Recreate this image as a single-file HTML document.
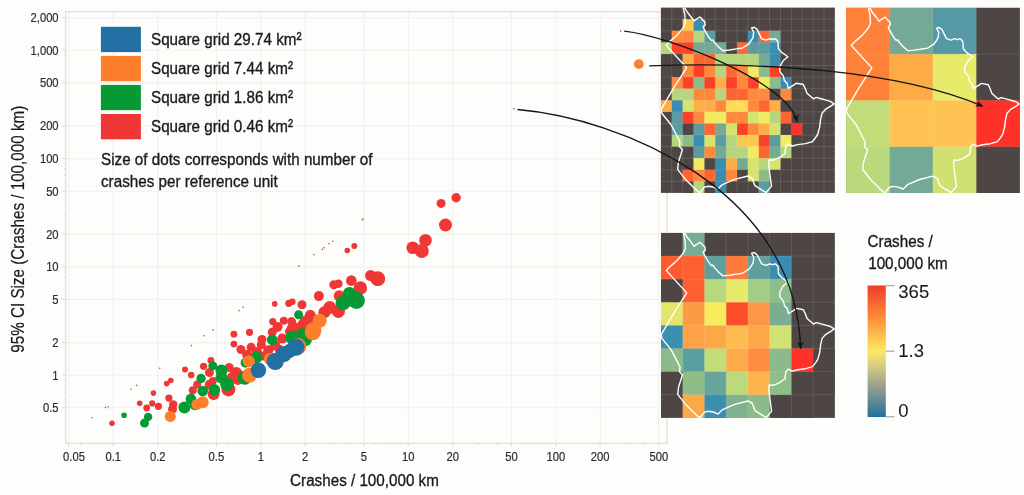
<!DOCTYPE html>
<html><head><meta charset="utf-8"><title>Crashes chart</title>
<style>html,body{margin:0;padding:0;background:#fdfdfc;}svg{display:block;}</style></head>
<body>
<svg width="1024" height="495" viewBox="0 0 1024 495" font-family="'Liberation Sans', sans-serif">
<rect x="0" y="0" width="1024" height="495" fill="#fdfdfc"/>
<g stroke="#f4f0ed" stroke-width="1.1">
<line x1="68.9" y1="11.7" x2="68.9" y2="443.2"/>
<line x1="113.3" y1="11.7" x2="113.3" y2="443.2"/>
<line x1="157.7" y1="11.7" x2="157.7" y2="443.2"/>
<line x1="216.4" y1="11.7" x2="216.4" y2="443.2"/>
<line x1="260.8" y1="11.7" x2="260.8" y2="443.2"/>
<line x1="305.2" y1="11.7" x2="305.2" y2="443.2"/>
<line x1="363.9" y1="11.7" x2="363.9" y2="443.2"/>
<line x1="408.3" y1="11.7" x2="408.3" y2="443.2"/>
<line x1="452.7" y1="11.7" x2="452.7" y2="443.2"/>
<line x1="511.4" y1="11.7" x2="511.4" y2="443.2"/>
<line x1="555.8" y1="11.7" x2="555.8" y2="443.2"/>
<line x1="600.2" y1="11.7" x2="600.2" y2="443.2"/>
<line x1="658.9" y1="11.7" x2="658.9" y2="443.2"/>
<line x1="65.6" y1="17.7" x2="667.0" y2="17.7"/>
<line x1="65.6" y1="50.3" x2="667.0" y2="50.3"/>
<line x1="65.6" y1="82.9" x2="667.0" y2="82.9"/>
<line x1="65.6" y1="126.0" x2="667.0" y2="126.0"/>
<line x1="65.6" y1="158.6" x2="667.0" y2="158.6"/>
<line x1="65.6" y1="191.2" x2="667.0" y2="191.2"/>
<line x1="65.6" y1="234.3" x2="667.0" y2="234.3"/>
<line x1="65.6" y1="266.9" x2="667.0" y2="266.9"/>
<line x1="65.6" y1="299.5" x2="667.0" y2="299.5"/>
<line x1="65.6" y1="342.6" x2="667.0" y2="342.6"/>
<line x1="65.6" y1="375.2" x2="667.0" y2="375.2"/>
<line x1="65.6" y1="407.8" x2="667.0" y2="407.8"/>
</g>
<rect x="65.6" y="11.7" width="601.4" height="431.5" fill="none" stroke="#e6ddd8" stroke-width="1.3"/>
<g stroke="#ddd4cf" stroke-width="1">
<line x1="68.9" y1="443.2" x2="68.9" y2="446.4"/>
<line x1="113.3" y1="443.2" x2="113.3" y2="446.4"/>
<line x1="157.7" y1="443.2" x2="157.7" y2="446.4"/>
<line x1="216.4" y1="443.2" x2="216.4" y2="446.4"/>
<line x1="260.8" y1="443.2" x2="260.8" y2="446.4"/>
<line x1="305.2" y1="443.2" x2="305.2" y2="446.4"/>
<line x1="363.9" y1="443.2" x2="363.9" y2="446.4"/>
<line x1="408.3" y1="443.2" x2="408.3" y2="446.4"/>
<line x1="452.7" y1="443.2" x2="452.7" y2="446.4"/>
<line x1="511.4" y1="443.2" x2="511.4" y2="446.4"/>
<line x1="555.8" y1="443.2" x2="555.8" y2="446.4"/>
<line x1="600.2" y1="443.2" x2="600.2" y2="446.4"/>
<line x1="658.9" y1="443.2" x2="658.9" y2="446.4"/>
<line x1="62.39999999999999" y1="17.7" x2="65.6" y2="17.7"/>
<line x1="62.39999999999999" y1="50.3" x2="65.6" y2="50.3"/>
<line x1="62.39999999999999" y1="82.9" x2="65.6" y2="82.9"/>
<line x1="62.39999999999999" y1="126.0" x2="65.6" y2="126.0"/>
<line x1="62.39999999999999" y1="158.6" x2="65.6" y2="158.6"/>
<line x1="62.39999999999999" y1="191.2" x2="65.6" y2="191.2"/>
<line x1="62.39999999999999" y1="234.3" x2="65.6" y2="234.3"/>
<line x1="62.39999999999999" y1="266.9" x2="65.6" y2="266.9"/>
<line x1="62.39999999999999" y1="299.5" x2="65.6" y2="299.5"/>
<line x1="62.39999999999999" y1="342.6" x2="65.6" y2="342.6"/>
<line x1="62.39999999999999" y1="375.2" x2="65.6" y2="375.2"/>
<line x1="62.39999999999999" y1="407.8" x2="65.6" y2="407.8"/>
</g>
<g stroke="#ddd4cf" stroke-width="0.8">
<line x1="80.6" y1="443.2" x2="80.6" y2="445.0"/>
<line x1="90.5" y1="443.2" x2="90.5" y2="445.0"/>
<line x1="99.0" y1="443.2" x2="99.0" y2="445.0"/>
<line x1="106.6" y1="443.2" x2="106.6" y2="445.0"/>
<line x1="183.7" y1="443.2" x2="183.7" y2="445.0"/>
<line x1="202.1" y1="443.2" x2="202.1" y2="445.0"/>
<line x1="228.1" y1="443.2" x2="228.1" y2="445.0"/>
<line x1="238.0" y1="443.2" x2="238.0" y2="445.0"/>
<line x1="246.5" y1="443.2" x2="246.5" y2="445.0"/>
<line x1="254.1" y1="443.2" x2="254.1" y2="445.0"/>
<line x1="331.2" y1="443.2" x2="331.2" y2="445.0"/>
<line x1="349.6" y1="443.2" x2="349.6" y2="445.0"/>
<line x1="375.6" y1="443.2" x2="375.6" y2="445.0"/>
<line x1="385.5" y1="443.2" x2="385.5" y2="445.0"/>
<line x1="394.0" y1="443.2" x2="394.0" y2="445.0"/>
<line x1="401.6" y1="443.2" x2="401.6" y2="445.0"/>
<line x1="478.7" y1="443.2" x2="478.7" y2="445.0"/>
<line x1="497.1" y1="443.2" x2="497.1" y2="445.0"/>
<line x1="523.1" y1="443.2" x2="523.1" y2="445.0"/>
<line x1="533.0" y1="443.2" x2="533.0" y2="445.0"/>
<line x1="541.5" y1="443.2" x2="541.5" y2="445.0"/>
<line x1="549.1" y1="443.2" x2="549.1" y2="445.0"/>
<line x1="626.2" y1="443.2" x2="626.2" y2="445.0"/>
<line x1="644.6" y1="443.2" x2="644.6" y2="445.0"/>
<line x1="63.8" y1="431.8" x2="65.6" y2="431.8"/>
<line x1="63.8" y1="418.3" x2="65.6" y2="418.3"/>
<line x1="63.8" y1="399.2" x2="65.6" y2="399.2"/>
<line x1="63.8" y1="392.0" x2="65.6" y2="392.0"/>
<line x1="63.8" y1="385.7" x2="65.6" y2="385.7"/>
<line x1="63.8" y1="380.2" x2="65.6" y2="380.2"/>
<line x1="63.8" y1="323.5" x2="65.6" y2="323.5"/>
<line x1="63.8" y1="310.0" x2="65.6" y2="310.0"/>
<line x1="63.8" y1="290.9" x2="65.6" y2="290.9"/>
<line x1="63.8" y1="283.7" x2="65.6" y2="283.7"/>
<line x1="63.8" y1="277.4" x2="65.6" y2="277.4"/>
<line x1="63.8" y1="271.9" x2="65.6" y2="271.9"/>
<line x1="63.8" y1="215.2" x2="65.6" y2="215.2"/>
<line x1="63.8" y1="201.7" x2="65.6" y2="201.7"/>
<line x1="63.8" y1="182.6" x2="65.6" y2="182.6"/>
<line x1="63.8" y1="175.4" x2="65.6" y2="175.4"/>
<line x1="63.8" y1="169.1" x2="65.6" y2="169.1"/>
<line x1="63.8" y1="163.6" x2="65.6" y2="163.6"/>
<line x1="63.8" y1="106.9" x2="65.6" y2="106.9"/>
<line x1="63.8" y1="93.4" x2="65.6" y2="93.4"/>
<line x1="63.8" y1="74.3" x2="65.6" y2="74.3"/>
<line x1="63.8" y1="67.1" x2="65.6" y2="67.1"/>
<line x1="63.8" y1="60.8" x2="65.6" y2="60.8"/>
<line x1="63.8" y1="55.3" x2="65.6" y2="55.3"/>
</g>
<text transform="translate(74.0,460.6) scale(0.89,1)" font-size="12.6" text-anchor="middle" fill="#2c2c2c" stroke="#2c2c2c" stroke-width="0.2">0.05</text>
<text transform="translate(113.3,460.6) scale(0.89,1)" font-size="12.6" text-anchor="middle" fill="#2c2c2c" stroke="#2c2c2c" stroke-width="0.2">0.1</text>
<text transform="translate(157.7,460.6) scale(0.89,1)" font-size="12.6" text-anchor="middle" fill="#2c2c2c" stroke="#2c2c2c" stroke-width="0.2">0.2</text>
<text transform="translate(216.4,460.6) scale(0.89,1)" font-size="12.6" text-anchor="middle" fill="#2c2c2c" stroke="#2c2c2c" stroke-width="0.2">0.5</text>
<text transform="translate(260.8,460.6) scale(0.89,1)" font-size="12.6" text-anchor="middle" fill="#2c2c2c" stroke="#2c2c2c" stroke-width="0.2">1</text>
<text transform="translate(305.2,460.6) scale(0.89,1)" font-size="12.6" text-anchor="middle" fill="#2c2c2c" stroke="#2c2c2c" stroke-width="0.2">2</text>
<text transform="translate(363.9,460.6) scale(0.89,1)" font-size="12.6" text-anchor="middle" fill="#2c2c2c" stroke="#2c2c2c" stroke-width="0.2">5</text>
<text transform="translate(408.3,460.6) scale(0.89,1)" font-size="12.6" text-anchor="middle" fill="#2c2c2c" stroke="#2c2c2c" stroke-width="0.2">10</text>
<text transform="translate(452.7,460.6) scale(0.89,1)" font-size="12.6" text-anchor="middle" fill="#2c2c2c" stroke="#2c2c2c" stroke-width="0.2">20</text>
<text transform="translate(511.4,460.6) scale(0.89,1)" font-size="12.6" text-anchor="middle" fill="#2c2c2c" stroke="#2c2c2c" stroke-width="0.2">50</text>
<text transform="translate(555.8,460.6) scale(0.89,1)" font-size="12.6" text-anchor="middle" fill="#2c2c2c" stroke="#2c2c2c" stroke-width="0.2">100</text>
<text transform="translate(600.2,460.6) scale(0.89,1)" font-size="12.6" text-anchor="middle" fill="#2c2c2c" stroke="#2c2c2c" stroke-width="0.2">200</text>
<text transform="translate(658.9,460.6) scale(0.89,1)" font-size="12.6" text-anchor="middle" fill="#2c2c2c" stroke="#2c2c2c" stroke-width="0.2">500</text>
<text transform="translate(58.6,22.1) scale(0.89,1)" font-size="12.6" text-anchor="end" fill="#2c2c2c" stroke="#2c2c2c" stroke-width="0.2">2,000</text>
<text transform="translate(58.6,54.7) scale(0.89,1)" font-size="12.6" text-anchor="end" fill="#2c2c2c" stroke="#2c2c2c" stroke-width="0.2">1,000</text>
<text transform="translate(58.6,87.3) scale(0.89,1)" font-size="12.6" text-anchor="end" fill="#2c2c2c" stroke="#2c2c2c" stroke-width="0.2">500</text>
<text transform="translate(58.6,130.4) scale(0.89,1)" font-size="12.6" text-anchor="end" fill="#2c2c2c" stroke="#2c2c2c" stroke-width="0.2">200</text>
<text transform="translate(58.6,163.0) scale(0.89,1)" font-size="12.6" text-anchor="end" fill="#2c2c2c" stroke="#2c2c2c" stroke-width="0.2">100</text>
<text transform="translate(58.6,195.6) scale(0.89,1)" font-size="12.6" text-anchor="end" fill="#2c2c2c" stroke="#2c2c2c" stroke-width="0.2">50</text>
<text transform="translate(58.6,238.7) scale(0.89,1)" font-size="12.6" text-anchor="end" fill="#2c2c2c" stroke="#2c2c2c" stroke-width="0.2">20</text>
<text transform="translate(58.6,271.3) scale(0.89,1)" font-size="12.6" text-anchor="end" fill="#2c2c2c" stroke="#2c2c2c" stroke-width="0.2">10</text>
<text transform="translate(58.6,303.9) scale(0.89,1)" font-size="12.6" text-anchor="end" fill="#2c2c2c" stroke="#2c2c2c" stroke-width="0.2">5</text>
<text transform="translate(58.6,347.0) scale(0.89,1)" font-size="12.6" text-anchor="end" fill="#2c2c2c" stroke="#2c2c2c" stroke-width="0.2">2</text>
<text transform="translate(58.6,379.6) scale(0.89,1)" font-size="12.6" text-anchor="end" fill="#2c2c2c" stroke="#2c2c2c" stroke-width="0.2">1</text>
<text transform="translate(58.6,412.2) scale(0.89,1)" font-size="12.6" text-anchor="end" fill="#2c2c2c" stroke="#2c2c2c" stroke-width="0.2">0.5</text>
<text transform="translate(364.5,486.4) scale(0.88,1)" font-size="17.3" text-anchor="middle" fill="#1a1a1a" stroke="#1a1a1a" stroke-width="0.35">Crashes / 100,000 km</text>
<text transform="translate(23.7,229.2) rotate(-90) scale(0.793,1)" font-size="19.2" text-anchor="middle" fill="#1a1a1a" stroke="#1a1a1a" stroke-width="0.2">95% CI Size (Crashes / 100,000 km)</text>
<rect x="100.9" y="26.8" width="40" height="25.3" fill="#2270a3"/>
<text transform="translate(151.0,45.0) scale(0.88,1)" font-size="17.3" text-anchor="start" fill="#1a1a1a" stroke="#1a1a1a" stroke-width="0.35">Square grid 29.74 km²</text>
<rect x="100.9" y="55.9" width="40" height="25.3" fill="#fd7f2c"/>
<text transform="translate(151.0,73.9) scale(0.88,1)" font-size="17.3" text-anchor="start" fill="#1a1a1a" stroke="#1a1a1a" stroke-width="0.35">Square grid 7.44 km²</text>
<rect x="100.9" y="84.9" width="40" height="25.3" fill="#069a35"/>
<text transform="translate(151.0,102.8) scale(0.88,1)" font-size="17.3" text-anchor="start" fill="#1a1a1a" stroke="#1a1a1a" stroke-width="0.35">Square grid 1.86 km²</text>
<rect x="100.9" y="114.0" width="40" height="25.3" fill="#ef3835"/>
<text transform="translate(151.0,131.7) scale(0.88,1)" font-size="17.3" text-anchor="start" fill="#1a1a1a" stroke="#1a1a1a" stroke-width="0.35">Square grid 0.46 km²</text>
<text transform="translate(101.0,164.9) scale(0.88,1)" font-size="17.3" text-anchor="start" fill="#1a1a1a" stroke="#1a1a1a" stroke-width="0.35">Size of dots corresponds with number of</text>
<text transform="translate(101.0,186.9) scale(0.88,1)" font-size="17.3" text-anchor="start" fill="#1a1a1a" stroke="#1a1a1a" stroke-width="0.35">crashes per reference unit</text>
<g fill="#ef3835">
<circle cx="92.2" cy="417.7" r="0.8"/>
<circle cx="105.5" cy="407.5" r="0.8"/>
<circle cx="108.1" cy="406.7" r="0.8"/>
<circle cx="131.1" cy="389.2" r="0.8"/>
<circle cx="136.7" cy="385.2" r="0.8"/>
<circle cx="159.7" cy="368.3" r="0.8"/>
<circle cx="191.4" cy="345.6" r="0.8"/>
<circle cx="204.2" cy="335.8" r="0.8"/>
<circle cx="239.1" cy="310.6" r="0.8"/>
<circle cx="243.1" cy="307.2" r="0.8"/>
<circle cx="298.8" cy="265.9" r="0.8"/>
<circle cx="313.9" cy="254.8" r="0.8"/>
<circle cx="322.5" cy="249.4" r="0.8"/>
<circle cx="328.9" cy="243.7" r="0.8"/>
<circle cx="332.8" cy="241.3" r="0.8"/>
<circle cx="362.2" cy="219.8" r="0.8"/>
<circle cx="363.3" cy="219.0" r="0.8"/>
<circle cx="620.6" cy="31.1" r="0.8"/>
</g>
<g fill="#ef3835">
<circle cx="112" cy="423.3" r="2.8"/>
<circle cx="139.7" cy="403.3" r="2.8"/>
<circle cx="146.7" cy="408" r="3.4"/>
<circle cx="152.2" cy="403.4" r="3.1"/>
<circle cx="153.4" cy="393.1" r="2.8"/>
<circle cx="158.4" cy="406.3" r="3.6"/>
<circle cx="166.7" cy="383.6" r="2.8"/>
<circle cx="170.8" cy="380.5" r="2.8"/>
<circle cx="168.9" cy="398.1" r="3.6"/>
<circle cx="173.3" cy="404.4" r="4.2"/>
<circle cx="172.5" cy="409.1" r="4.5"/>
<circle cx="185" cy="369.5" r="3"/>
<circle cx="191.2" cy="375" r="3.3"/>
<circle cx="192.8" cy="390.3" r="4"/>
<circle cx="197.2" cy="384.5" r="4"/>
<circle cx="203.6" cy="366.3" r="3.6"/>
<circle cx="210.9" cy="360.5" r="3.4"/>
<circle cx="209.4" cy="372.6" r="4.5"/>
<circle cx="209.7" cy="384.7" r="5"/>
<circle cx="212.8" cy="381" r="4"/>
<circle cx="213.6" cy="394" r="6"/>
<circle cx="228.4" cy="389.4" r="7"/>
<circle cx="236" cy="378" r="6"/>
<circle cx="229.2" cy="367.5" r="4.5"/>
<circle cx="236.3" cy="373" r="6"/>
<circle cx="237.8" cy="380" r="5"/>
<circle cx="232" cy="377" r="5"/>
<circle cx="233.9" cy="344.1" r="3.4"/>
<circle cx="233.9" cy="334.2" r="3.4"/>
<circle cx="240.9" cy="349.5" r="4.5"/>
<circle cx="249.5" cy="332.3" r="3.6"/>
<circle cx="251.1" cy="347.2" r="4.5"/>
<circle cx="247.2" cy="355" r="5"/>
<circle cx="262" cy="339.4" r="4.5"/>
<circle cx="261.3" cy="344.8" r="4.5"/>
<circle cx="268.3" cy="350.3" r="5"/>
<circle cx="272.2" cy="332.3" r="4.5"/>
<circle cx="282.3" cy="338.6" r="5"/>
<circle cx="275.3" cy="345.6" r="5"/>
<circle cx="289.4" cy="331.6" r="4.5"/>
<circle cx="274.7" cy="303.9" r="2.8"/>
<circle cx="288.8" cy="303.3" r="3.6"/>
<circle cx="292.3" cy="301.7" r="3.3"/>
<circle cx="302" cy="304.7" r="4.5"/>
<circle cx="318.9" cy="296.1" r="5"/>
<circle cx="333.8" cy="284.8" r="4.5"/>
<circle cx="338.4" cy="283.8" r="4.2"/>
<circle cx="351.3" cy="280.6" r="5.3"/>
<circle cx="360.3" cy="288" r="6.8"/>
<circle cx="370.6" cy="275.5" r="5.5"/>
<circle cx="377.8" cy="278.7" r="7.4"/>
<circle cx="339.2" cy="295.8" r="5.5"/>
<circle cx="329.8" cy="307.5" r="6.5"/>
<circle cx="338.4" cy="311.4" r="6.5"/>
<circle cx="324.4" cy="312.2" r="6"/>
<circle cx="310.3" cy="315.3" r="5.5"/>
<circle cx="305.6" cy="321.6" r="6"/>
<circle cx="291.6" cy="321.6" r="4.5"/>
<circle cx="283.8" cy="320.8" r="4"/>
<circle cx="272.8" cy="321.6" r="3.6"/>
<circle cx="277.5" cy="327" r="5"/>
<circle cx="291.6" cy="328.6" r="5"/>
<circle cx="300" cy="334" r="6"/>
<circle cx="295" cy="328" r="5.5"/>
<circle cx="303" cy="324.5" r="5.5"/>
<circle cx="309" cy="319.5" r="5"/>
<circle cx="456.1" cy="197.7" r="4.7"/>
<circle cx="441.1" cy="203.4" r="4.5"/>
<circle cx="445.5" cy="225" r="6.5"/>
<circle cx="425.5" cy="240.2" r="6.3"/>
<circle cx="412.7" cy="247.8" r="6.3"/>
<circle cx="421.8" cy="251" r="7"/>
<circle cx="354.3" cy="246" r="3"/>
<circle cx="347.3" cy="250.5" r="2.8"/>
<circle cx="257" cy="352" r="5"/>
<circle cx="265" cy="356" r="5"/>
<circle cx="280" cy="350" r="5"/>
</g>
<g fill="#069a35">
<circle cx="213.1" cy="329.7" r="0.8"/>
<circle cx="324.2" cy="247.7" r="0.8"/>
<circle cx="514.1" cy="108.7" r="0.8"/>
</g>
<g fill="#069a35">
<circle cx="124.1" cy="415.3" r="2.8"/>
<circle cx="148.1" cy="416.9" r="4.2"/>
<circle cx="144.5" cy="423.1" r="4.5"/>
<circle cx="184.4" cy="407.5" r="6"/>
<circle cx="190.9" cy="398.9" r="5.3"/>
<circle cx="194.8" cy="405.2" r="5"/>
<circle cx="201.1" cy="378.5" r="4.7"/>
<circle cx="202.7" cy="391" r="5.3"/>
<circle cx="214.4" cy="389.7" r="5.7"/>
<circle cx="221.4" cy="377.5" r="6"/>
<circle cx="226.9" cy="384.3" r="6.7"/>
<circle cx="221.4" cy="370.5" r="6"/>
<circle cx="212.8" cy="365.9" r="4.5"/>
<circle cx="272.2" cy="339.7" r="5.3"/>
<circle cx="256.6" cy="357.3" r="6"/>
<circle cx="245.6" cy="362.8" r="5"/>
<circle cx="244.8" cy="377.7" r="7"/>
<circle cx="292.5" cy="337.8" r="7"/>
<circle cx="305" cy="339.3" r="7"/>
<circle cx="298.6" cy="314.8" r="4.5"/>
<circle cx="343.1" cy="302.8" r="7.5"/>
<circle cx="349.4" cy="293.4" r="6.5"/>
<circle cx="356.4" cy="300.5" r="8.5"/>
<circle cx="291.6" cy="337.3" r="6"/>
<circle cx="302.5" cy="334.2" r="6"/>
</g>
<g fill="#fd7f2c">
<circle cx="170.3" cy="416.4" r="5.5"/>
<circle cx="196.9" cy="404.4" r="5.5"/>
<circle cx="202.7" cy="402.3" r="6"/>
<circle cx="249.5" cy="375.3" r="7.5"/>
<circle cx="248.8" cy="361.3" r="6"/>
<circle cx="269.8" cy="358.9" r="6"/>
<circle cx="298" cy="346.4" r="8.3"/>
<circle cx="312.8" cy="332.3" r="8"/>
<circle cx="319.7" cy="320.8" r="7"/>
<circle cx="313.4" cy="330.2" r="8"/>
<circle cx="638.8" cy="64.1" r="4.9"/>
</g>
<g fill="#2270a3">
<circle cx="258.4" cy="370.3" r="7.8"/>
<circle cx="275.3" cy="361.3" r="8.6"/>
<circle cx="283.9" cy="354.2" r="8"/>
<circle cx="289.4" cy="351.1" r="7"/>
<circle cx="295.9" cy="347.2" r="8.6"/>
</g>
<defs><clipPath id="cpa"><rect x="0" y="0" width="173.95" height="185.3"/></clipPath></defs>
<g transform="translate(660.9,7.6)">
<rect x="0" y="0" width="173.95" height="185.3" fill="#4e4644"/>
<g clip-path="url(#cpa)">
<rect x="21.74" y="11.58" width="11.87" height="12.58" fill="#fec850"/>
<rect x="32.62" y="11.58" width="11.87" height="12.58" fill="#3a8cb0"/>
<rect x="43.49" y="11.58" width="11.87" height="12.58" fill="#4e4644"/>
<rect x="10.87" y="23.16" width="11.87" height="12.58" fill="#fd8a3c"/>
<rect x="21.74" y="23.16" width="11.87" height="12.58" fill="#fd8a3c"/>
<rect x="32.62" y="23.16" width="11.87" height="12.58" fill="#b5d67e"/>
<rect x="43.49" y="23.16" width="11.87" height="12.58" fill="#5b9ca1"/>
<rect x="54.36" y="23.16" width="11.87" height="12.58" fill="#4e4644"/>
<rect x="86.97" y="23.16" width="11.87" height="12.58" fill="#3a8cb0"/>
<rect x="97.85" y="23.16" width="11.87" height="12.58" fill="#fd6531"/>
<rect x="108.72" y="23.16" width="11.87" height="12.58" fill="#74aa95"/>
<rect x="119.59" y="23.16" width="11.87" height="12.58" fill="#4e4644"/>
<rect x="0.00" y="34.74" width="11.87" height="12.58" fill="#b5d67e"/>
<rect x="10.87" y="34.74" width="11.87" height="12.58" fill="#fd4028"/>
<rect x="21.74" y="34.74" width="11.87" height="12.58" fill="#fd4028"/>
<rect x="32.62" y="34.74" width="11.87" height="12.58" fill="#74aa95"/>
<rect x="43.49" y="34.74" width="11.87" height="12.58" fill="#74aa95"/>
<rect x="54.36" y="34.74" width="11.87" height="12.58" fill="#74aa95"/>
<rect x="65.23" y="34.74" width="11.87" height="12.58" fill="#4e4644"/>
<rect x="76.10" y="34.74" width="11.87" height="12.58" fill="#fd6531"/>
<rect x="86.97" y="34.74" width="11.87" height="12.58" fill="#5b9ca1"/>
<rect x="97.85" y="34.74" width="11.87" height="12.58" fill="#5b9ca1"/>
<rect x="108.72" y="34.74" width="11.87" height="12.58" fill="#3a8cb0"/>
<rect x="119.59" y="34.74" width="11.87" height="12.58" fill="#4e4644"/>
<rect x="0.00" y="46.33" width="11.87" height="12.58" fill="#4e4644"/>
<rect x="10.87" y="46.33" width="11.87" height="12.58" fill="#4e4644"/>
<rect x="21.74" y="46.33" width="11.87" height="12.58" fill="#fdae48"/>
<rect x="32.62" y="46.33" width="11.87" height="12.58" fill="#fd6531"/>
<rect x="43.49" y="46.33" width="11.87" height="12.58" fill="#fd6531"/>
<rect x="54.36" y="46.33" width="11.87" height="12.58" fill="#b5d67e"/>
<rect x="65.23" y="46.33" width="11.87" height="12.58" fill="#b5d67e"/>
<rect x="76.10" y="46.33" width="11.87" height="12.58" fill="#b5d67e"/>
<rect x="86.97" y="46.33" width="11.87" height="12.58" fill="#b5d67e"/>
<rect x="97.85" y="46.33" width="11.87" height="12.58" fill="#74aa95"/>
<rect x="108.72" y="46.33" width="11.87" height="12.58" fill="#3a8cb0"/>
<rect x="119.59" y="46.33" width="11.87" height="12.58" fill="#4e4644"/>
<rect x="21.74" y="57.91" width="11.87" height="12.58" fill="#fd8a3c"/>
<rect x="32.62" y="57.91" width="11.87" height="12.58" fill="#fd4028"/>
<rect x="43.49" y="57.91" width="11.87" height="12.58" fill="#fd8a3c"/>
<rect x="54.36" y="57.91" width="11.87" height="12.58" fill="#b5d67e"/>
<rect x="65.23" y="57.91" width="11.87" height="12.58" fill="#fd6531"/>
<rect x="76.10" y="57.91" width="11.87" height="12.58" fill="#fd8a3c"/>
<rect x="86.97" y="57.91" width="11.87" height="12.58" fill="#f2eb62"/>
<rect x="97.85" y="57.91" width="11.87" height="12.58" fill="#8dbb88"/>
<rect x="108.72" y="57.91" width="11.87" height="12.58" fill="#fd4028"/>
<rect x="119.59" y="57.91" width="11.87" height="12.58" fill="#4e4644"/>
<rect x="10.87" y="69.49" width="11.87" height="12.58" fill="#fd8a3c"/>
<rect x="21.74" y="69.49" width="11.87" height="12.58" fill="#fd4028"/>
<rect x="32.62" y="69.49" width="11.87" height="12.58" fill="#8dbb88"/>
<rect x="43.49" y="69.49" width="11.87" height="12.58" fill="#fd4028"/>
<rect x="54.36" y="69.49" width="11.87" height="12.58" fill="#fdae48"/>
<rect x="65.23" y="69.49" width="11.87" height="12.58" fill="#fd4028"/>
<rect x="76.10" y="69.49" width="11.87" height="12.58" fill="#fd8a3c"/>
<rect x="86.97" y="69.49" width="11.87" height="12.58" fill="#fd4028"/>
<rect x="97.85" y="69.49" width="11.87" height="12.58" fill="#f2eb62"/>
<rect x="108.72" y="69.49" width="11.87" height="12.58" fill="#8dbb88"/>
<rect x="119.59" y="69.49" width="11.87" height="12.58" fill="#3a8cb0"/>
<rect x="130.46" y="69.49" width="11.87" height="12.58" fill="#4e4644"/>
<rect x="10.87" y="81.07" width="11.87" height="12.58" fill="#b5d67e"/>
<rect x="21.74" y="81.07" width="11.87" height="12.58" fill="#b5d67e"/>
<rect x="32.62" y="81.07" width="11.87" height="12.58" fill="#fd8a3c"/>
<rect x="43.49" y="81.07" width="11.87" height="12.58" fill="#fd8a3c"/>
<rect x="54.36" y="81.07" width="11.87" height="12.58" fill="#b5d67e"/>
<rect x="65.23" y="81.07" width="11.87" height="12.58" fill="#fd6531"/>
<rect x="76.10" y="81.07" width="11.87" height="12.58" fill="#fd6531"/>
<rect x="86.97" y="81.07" width="11.87" height="12.58" fill="#fd8a3c"/>
<rect x="97.85" y="81.07" width="11.87" height="12.58" fill="#fd8a3c"/>
<rect x="108.72" y="81.07" width="11.87" height="12.58" fill="#4e4644"/>
<rect x="119.59" y="81.07" width="11.87" height="12.58" fill="#fd8a3c"/>
<rect x="130.46" y="81.07" width="11.87" height="12.58" fill="#4e4644"/>
<rect x="0.00" y="92.65" width="11.87" height="12.58" fill="#fdae48"/>
<rect x="10.87" y="92.65" width="11.87" height="12.58" fill="#3a8cb0"/>
<rect x="21.74" y="92.65" width="11.87" height="12.58" fill="#d6e36f"/>
<rect x="32.62" y="92.65" width="11.87" height="12.58" fill="#fdae48"/>
<rect x="43.49" y="92.65" width="11.87" height="12.58" fill="#fdae48"/>
<rect x="54.36" y="92.65" width="11.87" height="12.58" fill="#fd8a3c"/>
<rect x="65.23" y="92.65" width="11.87" height="12.58" fill="#fddd57"/>
<rect x="76.10" y="92.65" width="11.87" height="12.58" fill="#fddd57"/>
<rect x="86.97" y="92.65" width="11.87" height="12.58" fill="#fd8a3c"/>
<rect x="97.85" y="92.65" width="11.87" height="12.58" fill="#fd6531"/>
<rect x="108.72" y="92.65" width="11.87" height="12.58" fill="#fdae48"/>
<rect x="119.59" y="92.65" width="11.87" height="12.58" fill="#4e4644"/>
<rect x="130.46" y="92.65" width="11.87" height="12.58" fill="#4e4644"/>
<rect x="0.00" y="104.23" width="11.87" height="12.58" fill="#4e4644"/>
<rect x="10.87" y="104.23" width="11.87" height="12.58" fill="#5b9ca1"/>
<rect x="21.74" y="104.23" width="11.87" height="12.58" fill="#fd4028"/>
<rect x="32.62" y="104.23" width="11.87" height="12.58" fill="#fd8a3c"/>
<rect x="43.49" y="104.23" width="11.87" height="12.58" fill="#f2eb62"/>
<rect x="54.36" y="104.23" width="11.87" height="12.58" fill="#f2eb62"/>
<rect x="65.23" y="104.23" width="11.87" height="12.58" fill="#fd8a3c"/>
<rect x="76.10" y="104.23" width="11.87" height="12.58" fill="#fd8a3c"/>
<rect x="86.97" y="104.23" width="11.87" height="12.58" fill="#d6e36f"/>
<rect x="97.85" y="104.23" width="11.87" height="12.58" fill="#f2eb62"/>
<rect x="108.72" y="104.23" width="11.87" height="12.58" fill="#b5d67e"/>
<rect x="119.59" y="104.23" width="11.87" height="12.58" fill="#fd6531"/>
<rect x="130.46" y="104.23" width="11.87" height="12.58" fill="#4e4644"/>
<rect x="10.87" y="115.81" width="11.87" height="12.58" fill="#5b9ca1"/>
<rect x="21.74" y="115.81" width="11.87" height="12.58" fill="#4e4644"/>
<rect x="32.62" y="115.81" width="11.87" height="12.58" fill="#5b9ca1"/>
<rect x="43.49" y="115.81" width="11.87" height="12.58" fill="#fd6531"/>
<rect x="54.36" y="115.81" width="11.87" height="12.58" fill="#74aa95"/>
<rect x="65.23" y="115.81" width="11.87" height="12.58" fill="#d6e36f"/>
<rect x="76.10" y="115.81" width="11.87" height="12.58" fill="#fd4028"/>
<rect x="86.97" y="115.81" width="11.87" height="12.58" fill="#fd8a3c"/>
<rect x="97.85" y="115.81" width="11.87" height="12.58" fill="#fdae48"/>
<rect x="108.72" y="115.81" width="11.87" height="12.58" fill="#d6e36f"/>
<rect x="119.59" y="115.81" width="11.87" height="12.58" fill="#4e4644"/>
<rect x="130.46" y="115.81" width="11.87" height="12.58" fill="#fe3229"/>
<rect x="141.33" y="115.81" width="11.87" height="12.58" fill="#4e4644"/>
<rect x="10.87" y="127.39" width="11.87" height="12.58" fill="#b5d67e"/>
<rect x="21.74" y="127.39" width="11.87" height="12.58" fill="#8dbb88"/>
<rect x="32.62" y="127.39" width="11.87" height="12.58" fill="#3a8cb0"/>
<rect x="43.49" y="127.39" width="11.87" height="12.58" fill="#d6e36f"/>
<rect x="54.36" y="127.39" width="11.87" height="12.58" fill="#5b9ca1"/>
<rect x="65.23" y="127.39" width="11.87" height="12.58" fill="#b5d67e"/>
<rect x="76.10" y="127.39" width="11.87" height="12.58" fill="#fec850"/>
<rect x="86.97" y="127.39" width="11.87" height="12.58" fill="#fec850"/>
<rect x="97.85" y="127.39" width="11.87" height="12.58" fill="#fd4028"/>
<rect x="108.72" y="127.39" width="11.87" height="12.58" fill="#5b9ca1"/>
<rect x="119.59" y="127.39" width="11.87" height="12.58" fill="#f2eb62"/>
<rect x="130.46" y="127.39" width="11.87" height="12.58" fill="#4e4644"/>
<rect x="141.33" y="127.39" width="11.87" height="12.58" fill="#4e4644"/>
<rect x="10.87" y="138.98" width="11.87" height="12.58" fill="#4e4644"/>
<rect x="21.74" y="138.98" width="11.87" height="12.58" fill="#4e4644"/>
<rect x="32.62" y="138.98" width="11.87" height="12.58" fill="#5b9ca1"/>
<rect x="43.49" y="138.98" width="11.87" height="12.58" fill="#fd8a3c"/>
<rect x="54.36" y="138.98" width="11.87" height="12.58" fill="#74aa95"/>
<rect x="65.23" y="138.98" width="11.87" height="12.58" fill="#b5d67e"/>
<rect x="76.10" y="138.98" width="11.87" height="12.58" fill="#b5d67e"/>
<rect x="86.97" y="138.98" width="11.87" height="12.58" fill="#f2eb62"/>
<rect x="97.85" y="138.98" width="11.87" height="12.58" fill="#fd6531"/>
<rect x="108.72" y="138.98" width="11.87" height="12.58" fill="#74aa95"/>
<rect x="119.59" y="138.98" width="11.87" height="12.58" fill="#b5d67e"/>
<rect x="130.46" y="138.98" width="11.87" height="12.58" fill="#4e4644"/>
<rect x="32.62" y="150.56" width="11.87" height="12.58" fill="#f2eb62"/>
<rect x="43.49" y="150.56" width="11.87" height="12.58" fill="#4e4644"/>
<rect x="54.36" y="150.56" width="11.87" height="12.58" fill="#3a8cb0"/>
<rect x="65.23" y="150.56" width="11.87" height="12.58" fill="#fdae48"/>
<rect x="76.10" y="150.56" width="11.87" height="12.58" fill="#74aa95"/>
<rect x="86.97" y="150.56" width="11.87" height="12.58" fill="#d6e36f"/>
<rect x="97.85" y="150.56" width="11.87" height="12.58" fill="#b5d67e"/>
<rect x="108.72" y="150.56" width="11.87" height="12.58" fill="#d6e36f"/>
<rect x="119.59" y="150.56" width="11.87" height="12.58" fill="#4e4644"/>
<rect x="130.46" y="150.56" width="11.87" height="12.58" fill="#4e4644"/>
<rect x="21.74" y="162.14" width="11.87" height="12.58" fill="#fd6531"/>
<rect x="32.62" y="162.14" width="11.87" height="12.58" fill="#fd8a3c"/>
<rect x="43.49" y="162.14" width="11.87" height="12.58" fill="#fd6531"/>
<rect x="54.36" y="162.14" width="11.87" height="12.58" fill="#3a8cb0"/>
<rect x="65.23" y="162.14" width="11.87" height="12.58" fill="#fd8a3c"/>
<rect x="76.10" y="162.14" width="11.87" height="12.58" fill="#4e4644"/>
<rect x="86.97" y="162.14" width="11.87" height="12.58" fill="#d6e36f"/>
<rect x="97.85" y="162.14" width="11.87" height="12.58" fill="#8dbb88"/>
<rect x="108.72" y="162.14" width="11.87" height="12.58" fill="#4e4644"/>
<rect x="119.59" y="162.14" width="11.87" height="12.58" fill="#4e4644"/>
<rect x="21.74" y="173.72" width="11.87" height="12.58" fill="#4e4644"/>
<rect x="32.62" y="173.72" width="11.87" height="12.58" fill="#b5d67e"/>
<rect x="43.49" y="173.72" width="11.87" height="12.58" fill="#4e4644"/>
<rect x="54.36" y="173.72" width="11.87" height="12.58" fill="#3a8cb0"/>
<rect x="65.23" y="173.72" width="11.87" height="12.58" fill="#4e4644"/>
<rect x="76.10" y="173.72" width="11.87" height="12.58" fill="#4e4644"/>
<rect x="86.97" y="173.72" width="11.87" height="12.58" fill="#4e4644"/>
<rect x="97.85" y="173.72" width="11.87" height="12.58" fill="#5b9ca1"/>
<rect x="108.72" y="173.72" width="11.87" height="12.58" fill="#4e4644"/>
</g>
<g stroke="#ffffff" stroke-opacity="0.13" stroke-width="0.9">
<line x1="10.87" y1="0" x2="10.87" y2="185.3"/>
<line x1="21.74" y1="0" x2="21.74" y2="185.3"/>
<line x1="32.62" y1="0" x2="32.62" y2="185.3"/>
<line x1="43.49" y1="0" x2="43.49" y2="185.3"/>
<line x1="54.36" y1="0" x2="54.36" y2="185.3"/>
<line x1="65.23" y1="0" x2="65.23" y2="185.3"/>
<line x1="76.10" y1="0" x2="76.10" y2="185.3"/>
<line x1="86.97" y1="0" x2="86.97" y2="185.3"/>
<line x1="97.85" y1="0" x2="97.85" y2="185.3"/>
<line x1="108.72" y1="0" x2="108.72" y2="185.3"/>
<line x1="119.59" y1="0" x2="119.59" y2="185.3"/>
<line x1="130.46" y1="0" x2="130.46" y2="185.3"/>
<line x1="141.33" y1="0" x2="141.33" y2="185.3"/>
<line x1="152.21" y1="0" x2="152.21" y2="185.3"/>
<line x1="163.08" y1="0" x2="163.08" y2="185.3"/>
<line x1="0" y1="11.58" x2="173.95" y2="11.58"/>
<line x1="0" y1="23.16" x2="173.95" y2="23.16"/>
<line x1="0" y1="34.74" x2="173.95" y2="34.74"/>
<line x1="0" y1="46.33" x2="173.95" y2="46.33"/>
<line x1="0" y1="57.91" x2="173.95" y2="57.91"/>
<line x1="0" y1="69.49" x2="173.95" y2="69.49"/>
<line x1="0" y1="81.07" x2="173.95" y2="81.07"/>
<line x1="0" y1="92.65" x2="173.95" y2="92.65"/>
<line x1="0" y1="104.23" x2="173.95" y2="104.23"/>
<line x1="0" y1="115.81" x2="173.95" y2="115.81"/>
<line x1="0" y1="127.39" x2="173.95" y2="127.39"/>
<line x1="0" y1="138.98" x2="173.95" y2="138.98"/>
<line x1="0" y1="150.56" x2="173.95" y2="150.56"/>
<line x1="0" y1="162.14" x2="173.95" y2="162.14"/>
<line x1="0" y1="173.72" x2="173.95" y2="173.72"/>
</g>
<polygon points="5.2,37.6 9.0,33.8 16.1,27.6 22.1,20.5 24.4,15.5 24.0,7.4 22.3,0.0 23.7,0.0 26.2,4.4 30.2,9.4 33.2,13.5 34.8,12.0 36.8,10.9 38.8,9.4 40.3,10.4 41.8,12.5 43.9,14.0 44.2,17.5 42.3,19.0 43.4,22.0 45.4,25.6 47.9,29.6 50.4,32.8 51.9,32.3 53.5,34.8 57.5,39.3 62.0,43.1 68.6,42.4 75.7,41.3 81.7,40.4 88.3,36.1 92.1,30.0 92.8,24.6 90.6,20.4 93.4,19.7 96.1,21.8 98.8,27.3 100.6,31.0 105.2,32.5 108.8,31.0 111.5,31.9 114.3,31.0 117.0,33.8 117.5,41.0 120.6,44.7 127.0,49.2 122.4,52.9 118.8,59.2 118.8,63.8 122.4,68.3 123.4,72.9 126.1,75.6 127.4,80.7 131.5,78.3 135.7,75.6 142.4,76.9 144.3,81.0 146.1,85.6 152.4,91.2 155.4,89.8 162.0,91.6 169.3,93.8 173.4,96.2 169.8,98.6 164.8,101.6 161.1,105.7 159.7,111.7 158.7,119.8 156.7,126.9 154.7,129.9 151.6,134.0 144.6,136.0 136.5,137.0 131.4,138.4 127.4,136.4 124.8,139.0 124.0,146.1 118.3,150.1 112.2,152.6 108.2,152.2 107.8,157.3 109.2,168.4 110.6,178.5 105.2,185.0 101.1,182.5 94.1,178.1 91.0,170.4 87.0,168.4 73.7,171.8 61.5,177.0 57.0,181.5 52.4,179.4 47.4,178.7 43.4,179.5 38.8,185.3 34.3,181.5 25.2,172.5 16.7,161.8 17.6,154.2 21.5,142.0 18.5,139.0 19.1,134.5 16.1,128.4 10.0,116.9 0.9,105.7 0.3,101.7 13.1,79.8 25.8,60.1 9.0,41.8" fill="none" stroke="#ffffff" stroke-width="1.4" stroke-linejoin="round" clip-path="url(#cpa)"/>
</g>
<defs><clipPath id="cpb"><rect x="0" y="0" width="173.65" height="185.2"/></clipPath></defs>
<g transform="translate(846.05,7.8)">
<rect x="0" y="0" width="173.65" height="185.2" fill="#4e4644"/>
<g clip-path="url(#cpb)">
<rect x="0.00" y="0.00" width="44.41" height="47.30" fill="#fd8139"/>
<rect x="43.41" y="0.00" width="44.41" height="47.30" fill="#74aa95"/>
<rect x="86.83" y="0.00" width="44.41" height="47.30" fill="#5499a5"/>
<rect x="130.24" y="0.00" width="44.41" height="47.30" fill="#4e4644"/>
<rect x="0.00" y="46.30" width="44.41" height="47.30" fill="#fd8139"/>
<rect x="43.41" y="46.30" width="44.41" height="47.30" fill="#fdab47"/>
<rect x="86.83" y="46.30" width="44.41" height="47.30" fill="#e8ea6a"/>
<rect x="130.24" y="46.30" width="44.41" height="47.30" fill="#4e4644"/>
<rect x="0.00" y="92.60" width="44.41" height="47.30" fill="#c3dc7a"/>
<rect x="43.41" y="92.60" width="44.41" height="47.30" fill="#fec352"/>
<rect x="86.83" y="92.60" width="44.41" height="47.30" fill="#fec352"/>
<rect x="130.24" y="92.60" width="44.41" height="47.30" fill="#fe3229"/>
<rect x="0.00" y="138.90" width="44.41" height="47.30" fill="#b9d97c"/>
<rect x="43.41" y="138.90" width="44.41" height="47.30" fill="#74aa95"/>
<rect x="86.83" y="138.90" width="44.41" height="47.30" fill="#d0e071"/>
<rect x="130.24" y="138.90" width="44.41" height="47.30" fill="#4e4644"/>
</g>
<g stroke="#ffffff" stroke-opacity="0.13" stroke-width="0.9">
<line x1="43.41" y1="0" x2="43.41" y2="185.2"/>
<line x1="86.83" y1="0" x2="86.83" y2="185.2"/>
<line x1="130.24" y1="0" x2="130.24" y2="185.2"/>
<line x1="0" y1="46.30" x2="173.65" y2="46.30"/>
<line x1="0" y1="92.60" x2="173.65" y2="92.60"/>
<line x1="0" y1="138.90" x2="173.65" y2="138.90"/>
</g>
<polygon points="5.2,37.5 9.0,33.7 16.1,27.6 22.1,20.5 24.4,15.5 24.0,7.4 22.3,0.0 23.7,0.0 26.2,4.4 30.2,9.4 33.2,13.5 34.7,12.0 36.7,10.9 38.7,9.4 40.2,10.4 41.7,12.5 43.8,14.0 44.1,17.5 42.2,19.0 43.3,22.0 45.3,25.6 47.8,29.6 50.3,32.7 51.8,32.2 53.4,34.7 57.4,39.2 61.9,43.0 68.5,42.3 75.6,41.2 81.6,40.3 88.2,36.0 92.0,30.0 92.7,24.6 90.5,20.4 93.3,19.7 96.0,21.8 98.7,27.3 100.5,30.9 105.0,32.4 108.6,30.9 111.3,31.8 114.1,30.9 116.8,33.7 117.3,40.9 120.4,44.6 126.8,49.2 122.2,52.9 118.6,59.2 118.6,63.8 122.2,68.3 123.2,72.9 125.9,75.6 127.2,80.7 131.3,78.3 135.5,75.6 142.2,76.9 144.1,81.0 145.9,85.6 152.2,91.2 155.2,89.8 161.8,91.6 169.1,93.7 173.2,96.1 169.6,98.5 164.6,101.5 160.9,105.6 159.5,111.6 158.5,119.7 156.5,126.8 154.5,129.8 151.4,133.9 144.4,135.9 136.3,136.9 131.2,138.3 127.2,136.3 124.6,139.0 123.8,146.1 118.1,150.1 112.0,152.6 108.0,152.2 107.6,157.2 109.0,168.3 110.4,178.4 105.0,184.9 101.0,182.4 94.0,178.0 90.9,170.3 86.9,168.3 73.6,171.7 61.4,176.9 56.9,181.4 52.3,179.3 47.3,178.6 43.3,179.4 38.7,185.2 34.3,181.4 25.2,172.4 16.7,161.7 17.6,154.2 21.5,142.0 18.5,139.0 19.1,134.4 16.1,128.3 10.0,116.8 0.9,105.6 0.3,101.6 13.1,79.8 25.8,60.1 9.0,41.7" fill="none" stroke="#ffffff" stroke-width="1.4" stroke-linejoin="round" clip-path="url(#cpb)"/>
</g>
<defs><clipPath id="cpc"><rect x="0" y="0" width="173.85" height="185.0"/></clipPath></defs>
<g transform="translate(661.0,232.9)">
<rect x="0" y="0" width="173.85" height="185.0" fill="#4e4644"/>
<g clip-path="url(#cpc)">
<rect x="21.73" y="0.00" width="22.73" height="24.12" fill="#76ab94"/>
<rect x="43.46" y="0.00" width="22.73" height="24.12" fill="#4e4644"/>
<rect x="0.00" y="23.12" width="22.73" height="24.12" fill="#fd5a2e"/>
<rect x="21.73" y="23.12" width="22.73" height="24.12" fill="#fd6030"/>
<rect x="43.46" y="23.12" width="22.73" height="24.12" fill="#5fa09e"/>
<rect x="65.19" y="23.12" width="22.73" height="24.12" fill="#fd7a3c"/>
<rect x="86.92" y="23.12" width="22.73" height="24.12" fill="#5fa09e"/>
<rect x="108.66" y="23.12" width="22.73" height="24.12" fill="#3a8db0"/>
<rect x="130.39" y="23.12" width="22.73" height="24.12" fill="#4e4644"/>
<rect x="0.00" y="46.25" width="22.73" height="24.12" fill="#4e4644"/>
<rect x="21.73" y="46.25" width="22.73" height="24.12" fill="#fd6030"/>
<rect x="43.46" y="46.25" width="22.73" height="24.12" fill="#b7d87e"/>
<rect x="65.19" y="46.25" width="22.73" height="24.12" fill="#e8ea6a"/>
<rect x="86.92" y="46.25" width="22.73" height="24.12" fill="#a3cc85"/>
<rect x="108.66" y="46.25" width="22.73" height="24.12" fill="#8cbf8a"/>
<rect x="130.39" y="46.25" width="22.73" height="24.12" fill="#4e4644"/>
<rect x="0.00" y="69.38" width="22.73" height="24.12" fill="#e4e66c"/>
<rect x="21.73" y="69.38" width="22.73" height="24.12" fill="#fd9a44"/>
<rect x="43.46" y="69.38" width="22.73" height="24.12" fill="#f7ec5e"/>
<rect x="65.19" y="69.38" width="22.73" height="24.12" fill="#fc4e2b"/>
<rect x="86.92" y="69.38" width="22.73" height="24.12" fill="#fd9646"/>
<rect x="108.66" y="69.38" width="22.73" height="24.12" fill="#7aad92"/>
<rect x="130.39" y="69.38" width="22.73" height="24.12" fill="#4e4644"/>
<rect x="0.00" y="92.50" width="22.73" height="24.12" fill="#3a8fae"/>
<rect x="21.73" y="92.50" width="22.73" height="24.12" fill="#fda345"/>
<rect x="43.46" y="92.50" width="22.73" height="24.12" fill="#fda846"/>
<rect x="65.19" y="92.50" width="22.73" height="24.12" fill="#febb4f"/>
<rect x="86.92" y="92.50" width="22.73" height="24.12" fill="#fda846"/>
<rect x="108.66" y="92.50" width="22.73" height="24.12" fill="#d2e272"/>
<rect x="130.39" y="92.50" width="22.73" height="24.12" fill="#4e4644"/>
<rect x="0.00" y="115.62" width="22.73" height="24.12" fill="#8cba8a"/>
<rect x="21.73" y="115.62" width="22.73" height="24.12" fill="#5a9fa0"/>
<rect x="43.46" y="115.62" width="22.73" height="24.12" fill="#c3dc7a"/>
<rect x="65.19" y="115.62" width="22.73" height="24.12" fill="#fdaa48"/>
<rect x="86.92" y="115.62" width="22.73" height="24.12" fill="#fd8c40"/>
<rect x="108.66" y="115.62" width="22.73" height="24.12" fill="#8cba8a"/>
<rect x="130.39" y="115.62" width="22.73" height="24.12" fill="#fe3229"/>
<rect x="152.12" y="115.62" width="22.73" height="24.12" fill="#4e4644"/>
<rect x="0.00" y="138.75" width="22.73" height="24.12" fill="#4e4644"/>
<rect x="21.73" y="138.75" width="22.73" height="24.12" fill="#8fbd88"/>
<rect x="43.46" y="138.75" width="22.73" height="24.12" fill="#67a49b"/>
<rect x="65.19" y="138.75" width="22.73" height="24.12" fill="#bada7c"/>
<rect x="86.92" y="138.75" width="22.73" height="24.12" fill="#fdb44c"/>
<rect x="108.66" y="138.75" width="22.73" height="24.12" fill="#8fbd88"/>
<rect x="130.39" y="138.75" width="22.73" height="24.12" fill="#4e4644"/>
<rect x="152.12" y="138.75" width="22.73" height="24.12" fill="#4e4644"/>
<rect x="21.73" y="161.88" width="22.73" height="24.12" fill="#fda846"/>
<rect x="43.46" y="161.88" width="22.73" height="24.12" fill="#3a8fae"/>
<rect x="65.19" y="161.88" width="22.73" height="24.12" fill="#7fb08f"/>
<rect x="86.92" y="161.88" width="22.73" height="24.12" fill="#8cba8a"/>
<rect x="108.66" y="161.88" width="22.73" height="24.12" fill="#4e4644"/>
<rect x="130.39" y="161.88" width="22.73" height="24.12" fill="#4e4644"/>
</g>
<g stroke="#ffffff" stroke-opacity="0.13" stroke-width="0.9">
<line x1="21.73" y1="0" x2="21.73" y2="185.0"/>
<line x1="43.46" y1="0" x2="43.46" y2="185.0"/>
<line x1="65.19" y1="0" x2="65.19" y2="185.0"/>
<line x1="86.92" y1="0" x2="86.92" y2="185.0"/>
<line x1="108.66" y1="0" x2="108.66" y2="185.0"/>
<line x1="130.39" y1="0" x2="130.39" y2="185.0"/>
<line x1="152.12" y1="0" x2="152.12" y2="185.0"/>
<line x1="0" y1="23.12" x2="173.85" y2="23.12"/>
<line x1="0" y1="46.25" x2="173.85" y2="46.25"/>
<line x1="0" y1="69.38" x2="173.85" y2="69.38"/>
<line x1="0" y1="92.50" x2="173.85" y2="92.50"/>
<line x1="0" y1="115.62" x2="173.85" y2="115.62"/>
<line x1="0" y1="138.75" x2="173.85" y2="138.75"/>
<line x1="0" y1="161.88" x2="173.85" y2="161.88"/>
</g>
<polygon points="5.2,37.5 9.0,33.7 16.1,27.6 22.1,20.5 24.4,15.5 24.0,7.4 22.3,0.0 23.7,0.0 26.2,4.4 30.2,9.4 33.2,13.5 34.8,12.0 36.8,10.9 38.8,9.4 40.3,10.4 41.8,12.5 43.9,14.0 44.2,17.5 42.3,19.0 43.4,22.0 45.4,25.6 47.9,29.6 50.4,32.7 51.9,32.2 53.5,34.7 57.5,39.2 62.0,43.0 68.6,42.3 75.7,41.2 81.7,40.3 88.3,36.0 92.1,30.0 92.8,24.6 90.6,20.4 93.4,19.7 96.1,21.8 98.8,27.3 100.6,30.9 105.2,32.4 108.8,30.9 111.5,31.8 114.3,30.9 117.0,33.7 117.5,40.9 120.6,44.6 127.0,49.1 122.4,52.8 118.8,59.1 118.8,63.7 122.4,68.2 123.4,72.8 126.1,75.5 127.4,80.6 131.5,78.2 135.7,75.5 142.4,76.8 144.3,80.9 146.1,85.5 152.4,91.1 155.4,89.7 162.0,91.5 169.3,93.6 173.4,96.0 169.8,98.4 164.8,101.4 161.1,105.5 159.7,111.5 158.7,119.6 156.7,126.7 154.7,129.7 151.6,133.8 144.6,135.8 136.5,136.8 131.4,138.2 127.4,136.2 124.8,138.8 124.0,145.9 118.3,149.9 112.2,152.4 108.2,152.0 107.8,157.0 109.2,168.1 110.6,178.2 105.2,184.7 101.1,182.2 94.1,177.8 91.0,170.1 87.0,168.1 73.7,171.5 61.5,176.7 57.0,181.2 52.4,179.1 47.4,178.4 43.4,179.2 38.8,185.0 34.3,181.2 25.2,172.2 16.7,161.5 17.6,154.0 21.5,141.8 18.5,138.8 19.1,134.3 16.1,128.2 10.0,116.7 0.9,105.5 0.3,101.5 13.1,79.7 25.8,60.0 9.0,41.7" fill="none" stroke="#ffffff" stroke-width="1.4" stroke-linejoin="round" clip-path="url(#cpc)"/>
</g>
<defs><marker id="ah" viewBox="0 0 10 10" refX="9" refY="5" markerWidth="5.8" markerHeight="5.8" orient="auto"><path d="M0,0.8 L10,5 L0,9.2 L2.5,5 z" fill="#151515"/></marker></defs>
<g fill="none" stroke="#151515" stroke-width="1.3" marker-end="url(#ah)">
<path d="M624.2,31.1 C670,36 790.4,83.6 796.8,121.5"/>
<path d="M649.2,65.8 C765.4,62.2 895.6,69.5 982.6,106.1"/>
<path d="M517.5,109.5 C619.1,118.2 796.1,188.9 800.6,348.5"/>
</g>
<defs><linearGradient id="cb" x1="0" y1="0" x2="0" y2="1"><stop offset="0" stop-color="#f03b2a"/><stop offset="0.25" stop-color="#fd8d3c"/><stop offset="0.5" stop-color="#fde860"/><stop offset="0.625" stop-color="#cfc885"/><stop offset="0.75" stop-color="#a0a38a"/><stop offset="0.875" stop-color="#628a95"/><stop offset="1" stop-color="#23709a"/></linearGradient></defs>
<rect x="867.6" y="285.5" width="18.2" height="131.5" fill="url(#cb)"/>
<g stroke="#9a9a9a" stroke-width="1">
<line x1="885.8" y1="285.7" x2="894.5" y2="285.7"/>
<line x1="885.8" y1="351.2" x2="894.5" y2="351.2"/>
<line x1="885.8" y1="416.8" x2="894.5" y2="416.8"/>
</g>
<text transform="translate(867.6,247.2) scale(0.88,1)" font-size="17.3" text-anchor="start" fill="#1a1a1a" stroke="#1a1a1a" stroke-width="0.35">Crashes /</text>
<text transform="translate(868.2,269.4) scale(0.88,1)" font-size="17.3" text-anchor="start" fill="#1a1a1a" stroke="#1a1a1a" stroke-width="0.35">100,000 km</text>
<text transform="translate(898.3,298.4) scale(1,1)" font-size="18.5" text-anchor="start" fill="#1a1a1a" stroke="#1a1a1a" stroke-width="0.05">365</text>
<text transform="translate(898.3,356.9) scale(1,1)" font-size="18.5" text-anchor="start" fill="#1a1a1a" stroke="#1a1a1a" stroke-width="0.05">1.3</text>
<text transform="translate(898.3,416.9) scale(1,1)" font-size="18.5" text-anchor="start" fill="#1a1a1a" stroke="#1a1a1a" stroke-width="0.05">0</text>
</svg>
</body></html>
